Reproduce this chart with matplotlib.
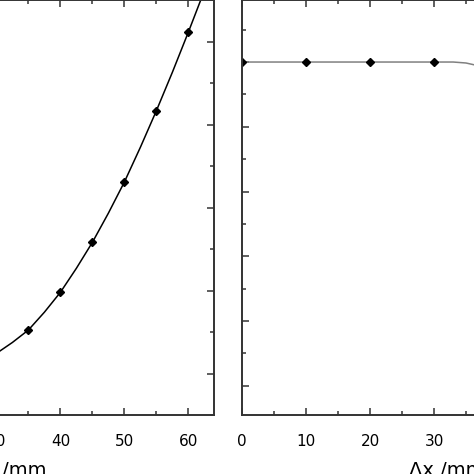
import numpy as np
import matplotlib
matplotlib.use('Agg')
import matplotlib.pyplot as plt
from matplotlib.ticker import MultipleLocator

# left panel: curve and measured points
curve_x = [27.5, 30, 32.5, 35, 37.5, 40, 42.5, 45, 47.5, 50, 52.5, 55, 57.5, 60, 62.5]
curve_y = [1.2, 2.43, 3.75, 5.25, 7.4, 9.8, 12.7, 15.83, 19.35, 23.11, 27.3, 31.71, 36.35, 41.2, 46.2]
pts_x = [35, 40, 45, 50, 55, 60]
pts_y = [5.25, 9.8, 15.83, 23.11, 31.71, 41.2]

# right panel: flat line and points
flat_x = [0, 10, 20, 30, 33, 35, 37.5]
flat_y = [5.0, 5.0, 5.0, 5.0, 5.0, 4.985, 4.93]
pts2_x = [0, 10, 20, 30]
pts2_y = [5.0, 5.0, 5.0, 5.0]

plt.rcParams['font.family'] = 'DejaVu Sans'

fig = plt.figure(figsize=(4.74, 4.74), dpi=100)
W = 474.0
bot = (W - 415) / W
hgt = (415 - 0.5) / W
wid = 409.6 / W
ax1 = fig.add_axes([-195.6 / W, bot, wid, hgt])
ax2 = fig.add_axes([242 / W, bot, wid, hgt])

ax1.plot(curve_x, curve_y, color='black', lw=1.1)
ax1.plot(pts_x, pts_y, ls='None', marker='D', ms=4.5, color='black')
ax1.set_xlim(0, 64)
ax1.set_ylim(-5, 45)
ax1.yaxis.set_major_locator(MultipleLocator(10))
ax1.yaxis.set_minor_locator(MultipleLocator(5))

ax2.plot(flat_x, flat_y, color='#808080', lw=1.1)
ax2.plot(pts2_x, pts2_y, ls='None', marker='D', ms=4.5, color='black')
ax2.set_xlim(0, 64)
ax2.set_ylim(-0.45, 5.95)
ax2.yaxis.set_major_locator(MultipleLocator(1))
ax2.yaxis.set_minor_locator(MultipleLocator(0.5))

for ax in (ax1, ax2):
    ax.xaxis.set_major_locator(MultipleLocator(10))
    ax.xaxis.set_minor_locator(MultipleLocator(5))
    for s in ax.spines.values():
        s.set_linewidth(1.4)
        s.set_color('#333333')
    ax.tick_params(which='both', direction='in', top=True, right=True,
                   width=1.1, color='#333333', labelsize=11, pad=14)
    ax.tick_params(which='major', length=5)
    ax.tick_params(which='minor', length=3)
    # y labels sit outside the visible crop
    ax.tick_params(axis='y', labelleft=False, labelright=False)
    ax.set_xlabel('\u0394x /mm', fontsize=14, labelpad=8)

fig.savefig('out.png', dpi=100)
